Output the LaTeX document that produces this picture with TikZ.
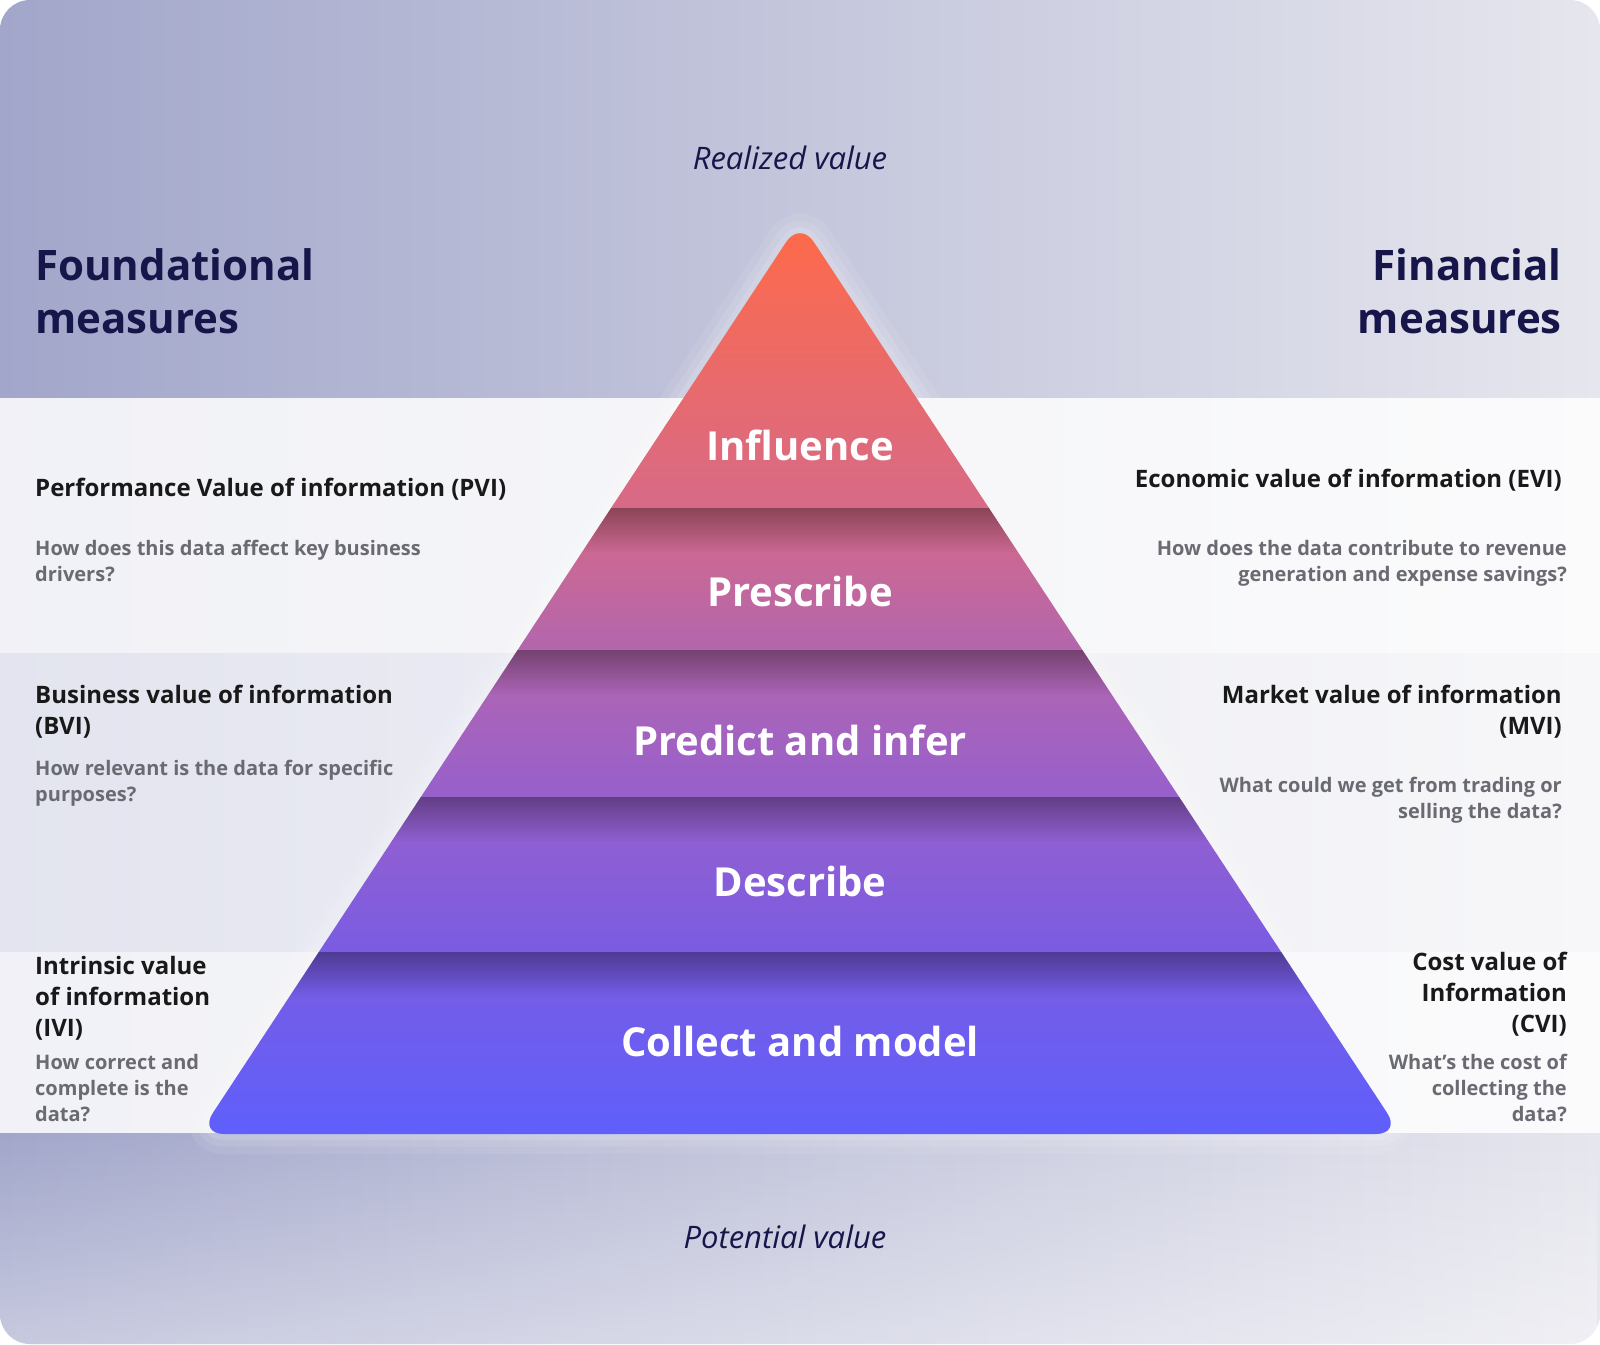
\documentclass[tikz,border=0pt]{standalone}
\usepackage{fontspec}
\setmainfont{Open Sans}
\usetikzlibrary{fadings}
\definecolor{navy}{HTML}{16164A}
\definecolor{qgrey}{HTML}{6A6A72}
\definecolor{bgA}{HTML}{A2A6CA}
\definecolor{bgB}{HTML}{E6E6EE}
\definecolor{pA}{HTML}{5F5FFC}
\definecolor{pB}{HTML}{7A5CE2}
\definecolor{pC}{HTML}{9860CC}
\definecolor{pD}{HTML}{B466AC}
\definecolor{pE}{HTML}{D86A86}
\definecolor{pF}{HTML}{FF6A48}
\pgfdeclareverticalshading{pyr}{100bp}{
 color(0bp)=(pA);
 color(25bp)=(pA);
 color(35bp)=(pB);
 color(43.6bp)=(pC);
 color(51.8bp)=(pD);
 color(59.7bp)=(pE);
 color(75bp)=(pF);
 color(100bp)=(pF)}
\tikzset{
 lay/.style={text=white,font=\fontsize{40}{44}\selectfont\bfseries,anchor=center},
 head/.style={text=navy,font=\fontsize{42}{53}\selectfont\bfseries,align=#1,inner sep=0},
 ttl/.style={text=black!90,font=\fontsize{24}{31}\selectfont\bfseries,align=#1,inner sep=0},
 qst/.style={text=qgrey,font=\fontsize{20}{26}\selectfont\bfseries,align=#1,inner sep=0},
 val/.style={text=navy,font=\fontsize{31}{36}\selectfont\itshape}
}
\begin{document}
\begin{tikzpicture}[x=1pt,y=-1pt]
\useasboundingbox (0,0) rectangle (1600,1344);
\shade[left color=bgA,right color=bgB,rounded corners=30] (0,0) rectangle (1600,1344);
\fill[white,opacity=0.4,path fading=north] (0,1133) rectangle (1600,1344);
\fill[white,opacity=0.85] (0,398) rectangle (1600,653);
\fill[white,opacity=0.7] (0,653) rectangle (1600,952);
\fill[white,opacity=0.85] (0,952) rectangle (1600,1133);
\foreach \w/\o in {40/0.08,25/0.1,12/0.12}{
 \draw[white,line width=\w,opacity=\o,rounded corners=25,line join=round] (199,1134)--(800,221)--(1401,1134)--cycle;}
\begin{scope}
\clip[rounded corners=25] (199,1134)--(800,221)--(1401,1134)--cycle;
\shade[shading=pyr] (190,221) rectangle (1410,1134);
\foreach \y in {508,650,797,952}{
 \fill[black,opacity=0.35,path fading=south] (190,\y) rectangle (1410,\y+45);}
\end{scope}
\node[lay] (l1) at (800,445) {Influence};
\node[lay] (l2) at (800,591) {Prescribe};
\node[lay] (l3) at (800,740) {Predict and infer};
\node[lay] (l4) at (800,881) {Describe};
\node[lay] (l5) at (800,1041) {Collect and model};
\node[val] (rv) at (790,158) {Realized value};
\node[val] (pv) at (785,1237) {Potential value};
\node[head=left,anchor=north west] (fm) at (35,248) {Foundational\\measures};
\node[head=right,anchor=north east] (fin) at (1562,248) {Financial\\measures};
\node[ttl=left,anchor=west] (pvi) at (35,489) {Performance Value of information (PVI)};
\node[qst=left,anchor=north west] (pviq) at (35,540) {How does this data affect key business\\drivers?};
\node[ttl=right,anchor=east] (evi) at (1562,480) {Economic value of information (EVI)};
\node[qst=right,anchor=north east] (eviq) at (1567,540) {How does the data contribute to revenue\\generation and expense savings?};
\node[ttl=left,anchor=north west] (bvi) at (35,685) {Business value of information\\(BVI)};
\node[qst=left,anchor=north west] (bviq) at (35,760) {How relevant is the data for specific\\purposes?};
\node[ttl=right,anchor=north east] (mvi) at (1562,685) {Market value of information\\(MVI)};
\node[qst=right,anchor=north east] (mviq) at (1562,777) {What could we get from trading or\\selling the data?};
\node[ttl=left,anchor=north west] (ivi) at (35,956) {Intrinsic value\\of information\\(IVI)};
\node[qst=left,anchor=north west] (iviq) at (35,1054) {How correct and\\complete is the\\data?};
\node[ttl=right,anchor=north east] (cvi) at (1567,952) {Cost value of\\Information\\(CVI)};
\node[qst=right,anchor=north east] (cviq) at (1567,1054) {What’s the cost of\\collecting the\\data?};
\end{tikzpicture}
\end{document}
